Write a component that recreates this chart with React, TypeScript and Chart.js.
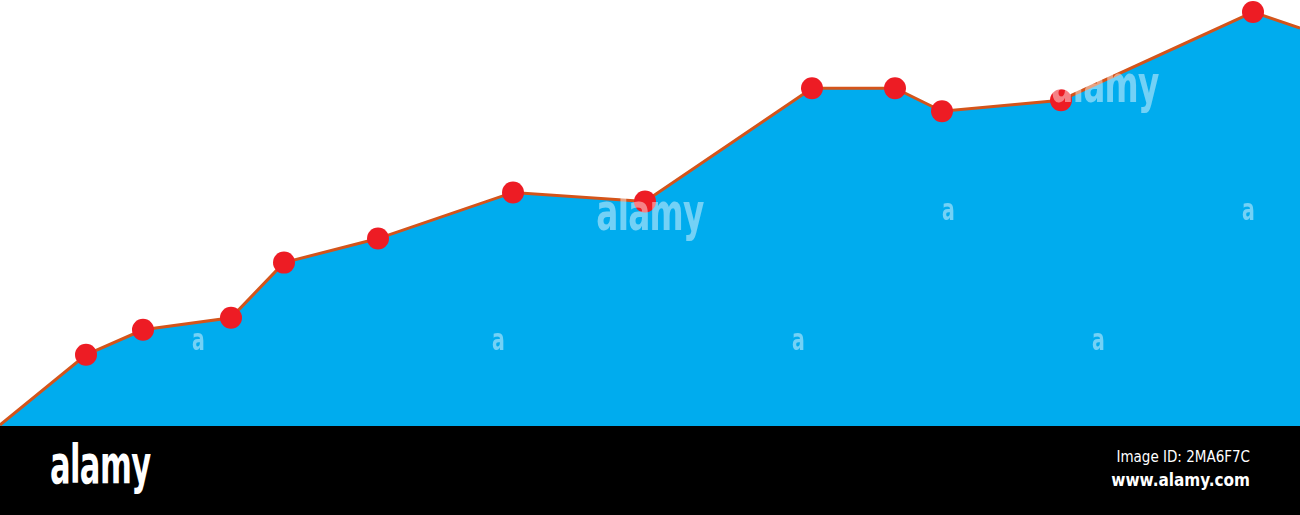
import React, { useEffect, useRef } from "react";
import { Chart, registerables } from "chart.js";

Chart.register(...registerables);

// horizontal position of each point (0..1300) and its height (0..425)
const positions = [0, 86, 143, 231, 284, 378, 513, 645, 812, 895, 942, 1061, 1253, 1300];
const values = [1, 71, 96, 108, 163, 187, 233, 224, 337, 337, 314, 325, 413, 397];
// the two ends have no marker
const markerSizes = [0, 11, 11, 11, 11, 11, 11, 11, 11, 11, 11, 11, 11, 0];

const FILL = "#00acee";
const LINE = "#d4541a";
const DOT = "#ed1c24";

const marks: { text: string; x: number; y: number; size: number }[] = [
  { text: "alamy", x: 650, y: 212, size: 52 },
  { text: "alamy", x: 1105, y: 84, size: 52 },
  { text: "a", x: 198, y: 340, size: 30 },
  { text: "a", x: 498, y: 340, size: 30 },
  { text: "a", x: 798, y: 340, size: 30 },
  { text: "a", x: 1098, y: 340, size: 30 },
  { text: "a", x: 948, y: 210, size: 30 },
  { text: "a", x: 1248, y: 210, size: 30 },
];

const AreaChart: React.FC = () => {
  const chartRef = useRef<HTMLCanvasElement>(null);

  useEffect(() => {
    if (!chartRef.current) return;
    const ctx = chartRef.current.getContext("2d");
    if (!ctx) return;
    const chart = new Chart(ctx, {
      type: "line",
      data: {
        datasets: [
          {
            data: positions.map((x, i) => ({ x, y: values[i] })),
            borderColor: LINE,
            borderWidth: 3,
            backgroundColor: FILL,
            fill: "origin",
            tension: 0,
            pointRadius: markerSizes,
            pointBackgroundColor: DOT,
            pointBorderWidth: 0,
            clip: false as any,
          },
        ],
      },
      options: {
        animation: false,
        responsive: false,
        maintainAspectRatio: false,
        layout: { padding: 0 },
        scales: {
          x: { type: "linear", min: 0, max: 1300, display: false },
          y: { min: 0, max: 425, display: false },
        },
        plugins: {
          legend: { display: false },
          tooltip: { enabled: false },
        },
      },
    });
    return () => chart.destroy();
  }, []);

  return <canvas ref={chartRef} width={1300} height={426} style={{ display: "block" }}></canvas>;
};

export default function App() {
  useEffect(() => {
    document.body.style.margin = "0";
  }, []);

  const narrow = '"DejaVu Sans Condensed", "Liberation Sans Narrow", sans-serif';

  return (
    <div style={{ position: "absolute", left: 0, top: 0, width: 1300, height: 515, background: "#fff", overflow: "hidden" }}>
      <AreaChart />
      {marks.map((m, i) => (
        <div
          key={i}
          style={{
            position: "absolute",
            left: m.x,
            top: m.y,
            transform: "translate(-50%, -50%) scaleX(0.7)",
            color: "rgba(255,255,255,0.45)",
            fontFamily: narrow,
            fontWeight: 700,
            fontSize: m.size,
            letterSpacing: -1,
            lineHeight: 1,
          }}
        >
          {m.text}
        </div>
      ))}
      <div style={{ position: "absolute", left: 0, top: 426, width: 1300, height: 89, background: "#000" }}>
        <div
          style={{
            position: "absolute",
            left: 50,
            top: 12,
            color: "#fff",
            fontFamily: narrow,
            fontWeight: 700,
            fontSize: 54,
            letterSpacing: -1,
            lineHeight: 1,
            transform: "scaleX(0.63)",
            transformOrigin: "left top",
          }}
        >
          alamy
        </div>
        <div
          style={{
            position: "absolute",
            right: 50,
            top: 24,
            color: "#fff",
            fontFamily: narrow,
            fontSize: 15,
            lineHeight: 1,
            textAlign: "right",
          }}
        >
          Image ID: 2MA6F7C
        </div>
        <div
          style={{
            position: "absolute",
            right: 50,
            top: 46,
            color: "#fff",
            fontFamily: narrow,
            fontWeight: 700,
            fontSize: 17,
            lineHeight: 1,
            textAlign: "right",
          }}
        >
          www.alamy.com
        </div>
      </div>
    </div>
  );
}
